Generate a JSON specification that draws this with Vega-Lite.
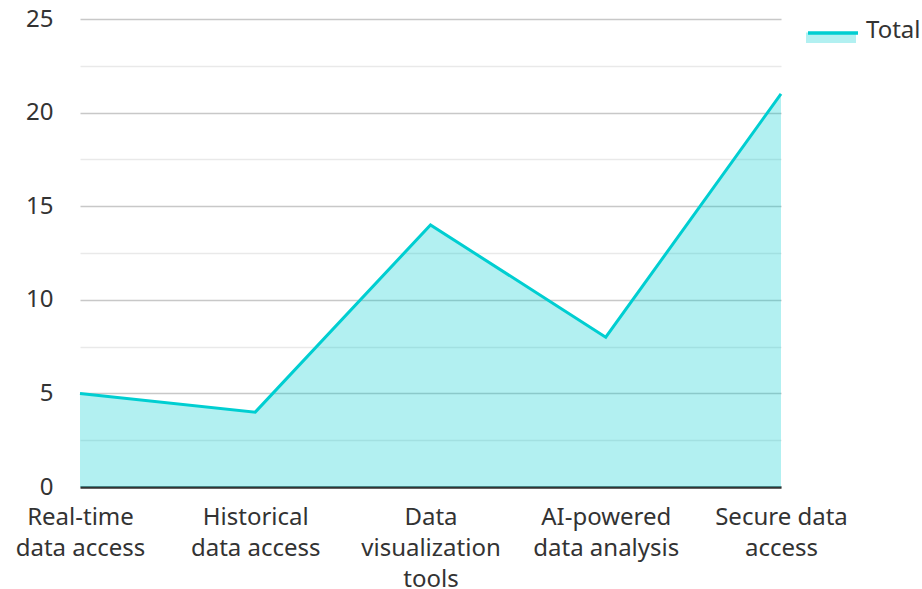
{
  "$schema": "https://vega.github.io/schema/vega-lite/v6.json",
  "autosize": {"type": "none"},
  "width": 701,
  "height": 468,
  "padding": {"left": 80, "top": 19, "right": 141, "bottom": 102},
  "background": "white",
  "config": {
    "view": {"stroke": null},
    "font": "Noto Sans",
    "axis": {"labelFont": "Noto Sans", "labelColor": "#333333", "labelFontSize": 24, "title": null},
    "legend": {"labelFont": "Noto Sans", "labelColor": "#333333", "labelFontSize": 24, "padding": 0}
  },
  "data": {
    "values": [
      {"feature": "Real-time data access", "total": 5},
      {"feature": "Historical data access", "total": 4},
      {"feature": "Data visualization tools", "total": 14},
      {"feature": "AI-powered data analysis", "total": 8},
      {"feature": "Secure data access", "total": 21}
    ]
  },
  "resolve": {"legend": {"fill": "independent", "stroke": "independent"}, "scale": {"fill": "independent", "stroke": "independent"}},
  "encoding": {
    "x": {
      "field": "feature",
      "type": "nominal",
      "sort": null,
      "scale": {"type": "point", "padding": 0},
      "axis": {
        "labelAngle": 0,
        "ticks": false,
        "domainColor": "#333333",
        "domainWidth": 2.5,
        "labelBaseline": "top",
        "labelPadding": 18,
        "labelLineHeight": 31,
        "labelExpr": "datum.value == 'Real-time data access' ? ['Real-time', 'data access'] : datum.value == 'Historical data access' ? ['Historical', 'data access'] : datum.value == 'Data visualization tools' ? ['Data', 'visualization', 'tools'] : datum.value == 'AI-powered data analysis' ? ['AI-powered', 'data analysis'] : ['Secure data', 'access']"
      }
    },
    "y": {
      "field": "total",
      "type": "quantitative",
      "scale": {"domain": [0, 25], "nice": false},
      "axis": {
        "values": [0, 2.5, 5, 7.5, 10, 12.5, 15, 17.5, 20, 22.5, 25],
        "labelExpr": "datum.value % 5 === 0 ? datum.label : ''",
        "domain": false,
        "ticks": false,
        "labelPadding": 27,
        "grid": true,
        "gridWidth": 1.5,
        "gridColor": {"condition": {"test": "datum.value % 5 === 0", "value": "#c8c8c8"}, "value": "#e9e9e9"}
      }
    }
  },
  "layer": [
    {
      "mark": {"type": "area", "fillOpacity": 0.3},
      "encoding": {
        "fill": {
          "datum": "Total",
          "scale": {"range": ["#00CED1"]},
          "legend": {
            "orient": "none",
            "legendX": 726,
            "legendY": -13,
            "title": null,
            "symbolType": "M-1,0.06H1V0.48H-1Z",
            "symbolSize": 2500,
            "symbolOpacity": 0.3,
            "symbolStrokeWidth": 0,
            "labelOffset": 10
          }
        }
      }
    },
    {
      "mark": {"type": "line", "strokeWidth": 3},
      "encoding": {
        "stroke": {
          "datum": "Total",
          "scale": {"range": ["#00CED1"]},
          "legend": {
            "orient": "none",
            "legendX": 726,
            "legendY": -13,
            "title": null,
            "symbolType": "stroke",
            "symbolSize": 2500,
            "symbolStrokeWidth": 3.5,
            "labelExpr": "''"
          }
        }
      }
    }
  ]
}
